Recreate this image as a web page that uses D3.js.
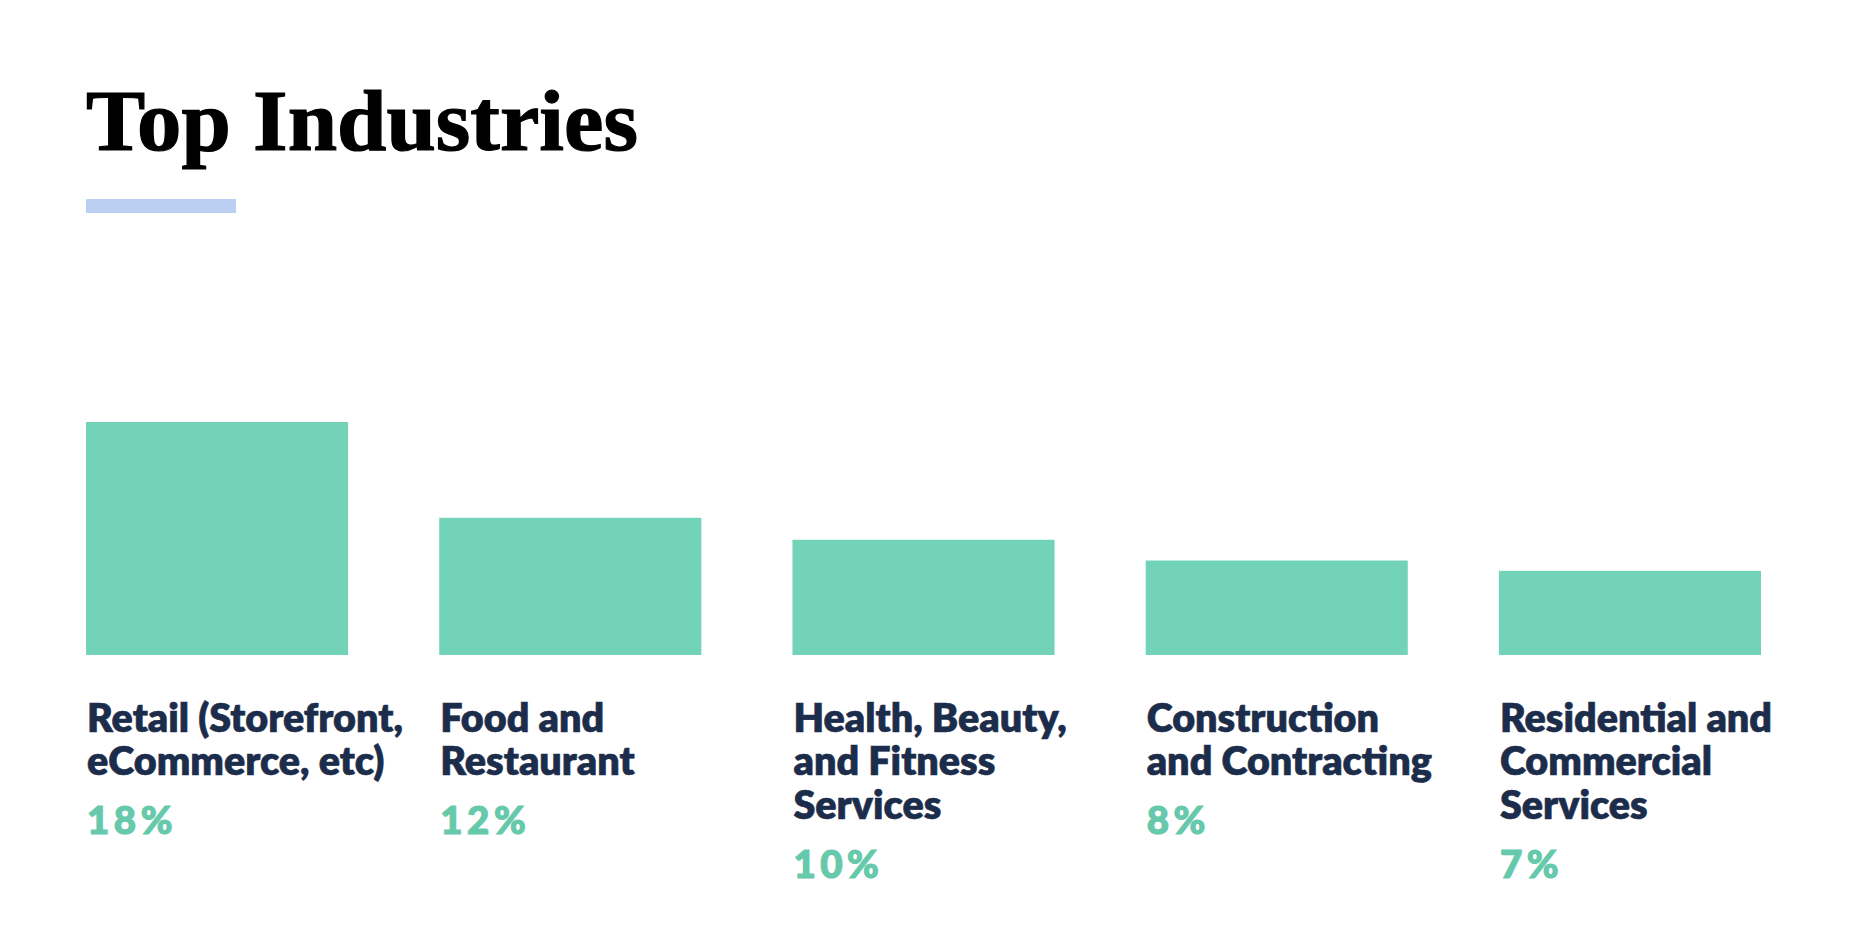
<!DOCTYPE html>
<html>
<head>
<meta charset="utf-8">
<script src="https://cdn.jsdelivr.net/npm/d3@7"></script>
<style>
  html, body { margin: 0; padding: 0; background: #ffffff; }
  svg { display: block; }
</style>
</head>
<body>
<svg id="chart" width="1870" height="942"></svg>
<script>
// ---- data ----
const title = "Top Industries";
const categories = [
  "Retail (Storefront,\neCommerce, etc)",
  "Food and\nRestaurant",
  "Health, Beauty,\nand Fitness\nServices",
  "Construction\nand Contracting",
  "Residential and\nCommercial\nServices"
];
const shares = [18, 12, 10, 8, 7];               // labelled percentages
const barLengths = [18, 10.6, 8.9, 7.3, 6.5];    // bar extents as drawn (same units as the 18% bar)
const shareLabels = ["18%", "12%", "10%", "8%", "7%"];

// ---- layout ----
const svg = d3.select("#chart");
const W = 1870, H = 942;
svg.append("rect").attr("width", W).attr("height", H).attr("fill", "#ffffff");

const baseline = 655;
const x = d3.scaleBand()
  .domain(categories)
  .range([86, 1761])
  .paddingInner(0.258)
  .paddingOuter(0);

const y = d3.scaleLinear()
  .domain([0, 18])
  .range([baseline, 422]);

// title
svg.append("text")
  .attr("x", 86)
  .attr("y", 150)
  .attr("font-family", "'Liberation Serif', 'DejaVu Serif', serif")
  .attr("font-weight", 700)
  .attr("font-size", 87)
  .attr("textLength", 552)
  .attr("lengthAdjust", "spacingAndGlyphs")
  .attr("fill", "#000000")
  .attr("stroke", "#000000")
  .attr("stroke-width", 1.2)
  .text(title);

// accent underline
svg.append("rect")
  .attr("x", 86).attr("y", 199)
  .attr("width", 150).attr("height", 14)
  .attr("fill", "#BBCFF3");

// bars
svg.append("g").selectAll("rect")
  .data(categories)
  .join("rect")
  .attr("x", d => x(d))
  .attr("width", x.bandwidth())
  .attr("y", (d, i) => y(barLengths[i]))
  .attr("height", (d, i) => baseline - y(barLengths[i]))
  .attr("fill", "#73D3B8");

// labels
const lineH = 43.3;
const firstBase = 732;
const g = svg.append("g");
categories.forEach((c, i) => {
  const lines = c.split("\n");
  const t = g.append("text")
    .attr("font-family", "Lato, 'Noto Sans', sans-serif")
    .attr("font-weight", 800)
    .attr("font-size", 39.5)
    .attr("fill", "#1C2D4B")
    .attr("stroke", "#1C2D4B")
    .attr("stroke-width", 0.6);
  lines.forEach((ln, j) => {
    t.append("tspan")
      .attr("x", x(c) + 1)
      .attr("y", firstBase + j * lineH)
      .text(ln);
  });
  g.append("text")
    .attr("x", x(c) + 1)
    .attr("y", firstBase + (lines.length - 1) * lineH + 59)
    .attr("font-family", "Lato, 'Noto Sans', sans-serif")
    .attr("font-weight", 900)
    .attr("font-size", 38.5)
    .attr("letter-spacing", 4.5)
    .attr("fill", "#67C9AB")
    .attr("stroke", "#67C9AB")
    .attr("stroke-width", 1.2)
    .text(shareLabels[i]);
});
</script>
</body>
</html>
